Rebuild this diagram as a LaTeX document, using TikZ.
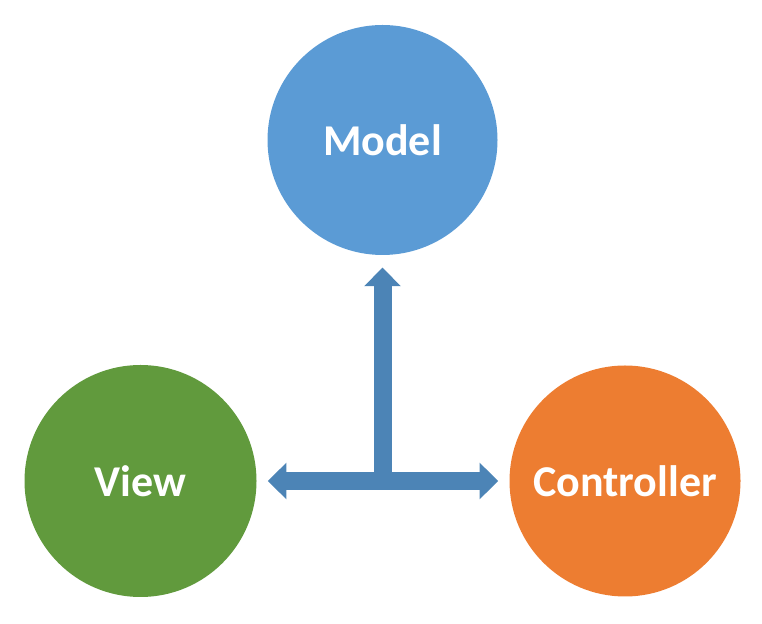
\documentclass[tikz,border=0pt]{standalone}
\usepackage{fontspec}
\setmainfont{Carlito}
\usetikzlibrary{arrows.meta}
\definecolor{modelblue}{HTML}{5B9BD5}
\definecolor{viewgreen}{HTML}{619A3D}
\definecolor{ctrlorange}{HTML}{ED7D31}
\definecolor{arrowblue}{HTML}{4C84B6}

\begin{document}
\begin{tikzpicture}[line cap=butt,line join=miter,x=1pt,y=1pt,
    part/.style={circle,inner sep=0pt,text=white,
        font=\fontsize{44}{50}\selectfont\bfseries},
    link/.style={draw=arrowblue,line width=18pt,
        -{Triangle[width=35.4pt,length=18.7pt]}}]
    \useasboundingbox (0,0) rectangle (762,623);
    % the three parts
    \node[part,fill=modelblue,minimum size=230pt] (model) at (382.5,483) {Model};
    \node[part,fill=viewgreen,minimum size=232pt] (view) at (140.5,142) {View};
    \node[part,fill=ctrlorange,minimum size=231pt] (controller) at (625,142) {Controller};
    % block arrow joining them
    \coordinate (hub) at (model.south |- view.east);
    \draw[link] ([yshift=-9pt]hub) -- ([yshift=-12.3pt]model.south);
    \draw[link,{Triangle[width=35.4pt,length=18.7pt]}-{Triangle[width=35.4pt,length=18.7pt]}]
        ([xshift=11pt]view.east) -- ([xshift=-11pt]controller.west);
\end{tikzpicture}
\end{document}
